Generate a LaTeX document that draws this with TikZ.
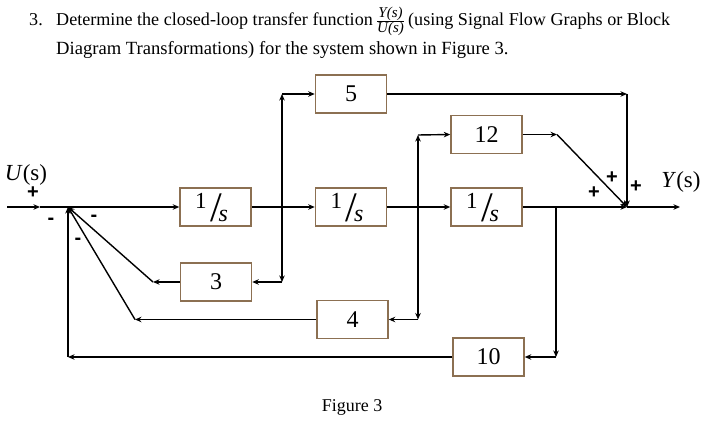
\documentclass[tikz,border=0pt]{standalone}
\usepackage{fontspec}
\setmainfont{Liberation Serif}
\setsansfont{Liberation Sans}
\usetikzlibrary{arrows.meta}
\definecolor{boxbrown}{RGB}{140,112,82}
\tikzset{
  blk/.style={draw=boxbrown, line width=1.5pt, fill=white, minimum width=71pt, minimum height=38pt, inner sep=0pt, font=\fontsize{24}{24}\selectfont},
  wire/.style={line width=1.4pt, black},
  arr/.style={wire, -{Stealth[length=6.5pt,width=5.5pt]}},
  sgn/.style={font=\fontsize{20}{20}\sffamily\bfseries\selectfont, inner sep=0pt},
  ttl/.style={font=\fontsize{18.1}{20}\selectfont, inner sep=0pt, anchor=base west},
  lbl/.style={font=\fontsize{23}{23}\selectfont, inner sep=0pt}
}
\newcommand{\piece}[3]{\makebox[0pt][l]{\hspace*{#1}\raisebox{#2}{#3}}}
\newcommand{\invs}{\smash{%
  \piece{-20.3pt}{-1.5pt}{\fontsize{23}{23}\selectfont 1}%
  \piece{-5.5pt}{-14.5pt}{\fontsize{42}{42}\selectfont /}%
  \piece{3.1pt}{-15pt}{\fontsize{24}{24}\selectfont\textit{s}}}}
\newcommand{\fracpart}[1]{\mbox{\fontsize{15}{15}\selectfont\textit{#1}}}
\begin{document}
\begin{tikzpicture}[x=1pt,y=-1pt]
\useasboundingbox (0,0) rectangle (704,422);
% title
\node[ttl] (t0) at (29,26) {3.};
\node[ttl] (t1) at (56,26) {Determine the closed-loop transfer function};
\node[inner sep=0pt, anchor=base, font=\fontsize{18.6}{20}\selectfont] (tf) at (390.5,26) {$\frac{\fracpart{Y(s)}}{\fracpart{U(s)}}$};
\node[ttl] (t2) at (408,26) {(using Signal Flow Graphs or Block};
\node[ttl, font=\fontsize{18.6}{20}\selectfont] (t3) at (56,55) {Diagram Transformations) for the system shown in Figure 3.};
% blocks
\node[blk] (b1) at (215.5,207) {\invs};
\node[blk] (b2) at (351,207) {\invs};
\node[blk] (b3) at (486.5,207) {\invs};
\node[blk] (k5) at (351,94) {5};
\node[blk] (k12) at (486.5,134.5) {12};
\node[blk] (k3) at (216,282) {3};
\node[blk] (k4) at (352.5,319.5) {4};
\node[blk] (k10) at (488.5,357) {10};
% coordinates
\coordinate (in) at (7,207);
\coordinate (inm) at (40,207);
\coordinate (s1) at (68,207);
\coordinate (s2) at (627,207);
\coordinate (br1) at (282,207);
\coordinate (c5) at (282,94);
\coordinate (c3) at (282,282);
\coordinate (br2) at (418,207);
\coordinate (c12) at (418,135);
\coordinate (c4) at (418,319.5);
\coordinate (br3) at (556,207);
\coordinate (c10) at (556,357);
\coordinate (d3) at (153,282);
\coordinate (d4) at (135,319.5);
\coordinate (fb) at (68,357);
\coordinate (t5) at (627,94);
\coordinate (t12) at (557,134.5);
\coordinate (out) at (680,207);
% wires
\draw[arr] (in) -- (inm);
\draw[wire] (inm) -- (s1);
\draw[arr] (s1) -- (b1.west);
\draw[arr] (b1.east) -- (b2.west);
\draw[arr] (br1) -- (c5);
\draw[arr] (c5) -- (k5.west);
\draw[arr] (br1) -- (c3);
\draw[arr] (c3) -- (k3.east);
\draw[arr] (k3.west) -- (d3);
\draw[arr] (d3) -- (s1);
\draw[arr] (b2.east) -- (b3.west);
\draw[arr] (br2) -- (c12);
\draw[arr] (c12) -- (k12.west);
\draw[arr] (br2) -- (c4);
\draw[arr] (c4) -- (k4.east);
\draw[arr] (k4.west) -- (d4);
\draw[arr] (d4) -- (s1);
\draw[arr] (b3.east) -- (s2);
\draw[arr] (br3) -- (c10);
\draw[arr] (c10) -- (k10.east);
\draw[arr] (k10.west) -- (fb);
\draw[arr] (fb) -- (s1);
\draw[arr] (k5.east) -- (t5);
\draw[arr] (t5) -- (s2);
\draw[arr] (k12.east) -- (t12);
\draw[arr] (t12) -- (s2);
\draw[arr] (s2) -- (out);
% signs
\node[sgn] (p1) at (33,193) {+};
\node[sgn] (m1) at (51,221) {-};
\node[sgn] (m2) at (94,218) {-};
\node[sgn] (m3) at (78,241) {-};
\node[sgn] (p2) at (594,193) {+};
\node[sgn] (p3) at (612,178) {+};
\node[sgn] (p4) at (636,187) {+};
% labels
\node[lbl] (U) at (26,175) {\textit{U}(s)};
\node[lbl] (Y) at (681,182) {\textit{Y}(s)};
\node[font=\fontsize{18}{18}\selectfont, inner sep=0pt] (fig) at (352,407) {Figure 3};
\end{tikzpicture}
\end{document}
